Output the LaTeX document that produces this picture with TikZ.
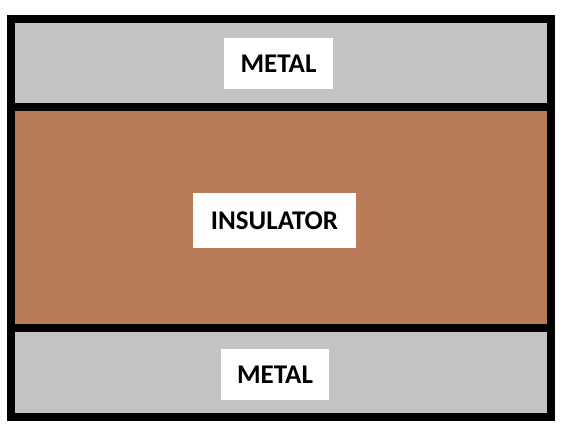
\documentclass[tikz,border=0pt]{standalone}
\usepackage{fontspec}
\setmainfont{Carlito}
\usepackage{tikz}
\definecolor{metalgray}{RGB}{195,195,195}
\definecolor{insulbrown}{RGB}{185,123,88}
\tikzset{layer line/.style={line width=8pt},
  tag/.style={fill=white,inner sep=0pt,font=\bfseries\fontsize{27}{32}\selectfont}}

\begin{document}
\begin{tikzpicture}[x=1pt,y=-1pt]
\useasboundingbox (0,0) rectangle (564,427);
\fill[metalgray] (11,19.5) rectangle (551,107.5);
\fill[insulbrown] (11,107.5) rectangle (551,328);
\fill[metalgray] (11,328) rectangle (551,417);
\draw[layer line] (11,19.5) coordinate (tl) rectangle (551,417) coordinate (br);
\draw[layer line] (11,107.5) coordinate (a1)-- (551,107.5) coordinate (b1);
\draw[layer line] (11,328) coordinate (a2)-- (551,328) coordinate (b2);
\node[tag,minimum width=109pt,minimum height=51pt] (topmetal) at (278.5,63.5) {METAL};
\node[tag,minimum width=163pt,minimum height=55pt] (insulator) at (274.5,220.5) {INSULATOR};
\node[tag,minimum width=108pt,minimum height=51pt] (botmetal) at (275,374.5) {METAL};
\end{tikzpicture}
\end{document}
